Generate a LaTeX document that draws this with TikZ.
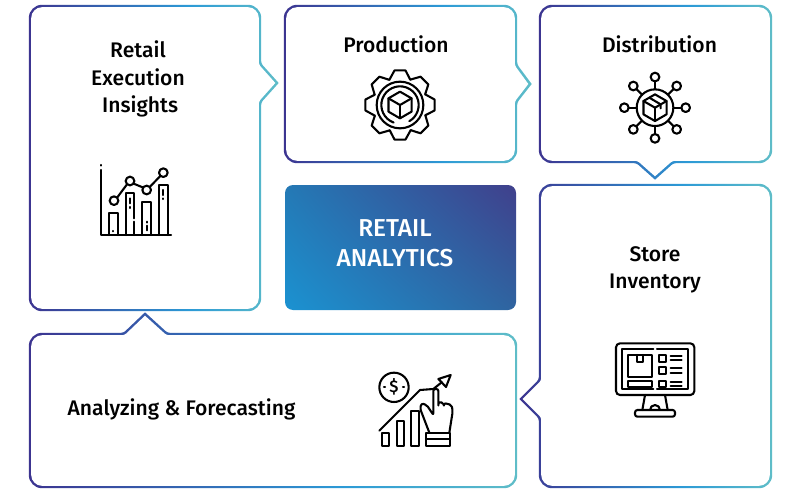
\documentclass[tikz,border=0pt]{standalone}
\usepackage{fontspec}
\setmainfont{Fira Sans Medium}
\usetikzlibrary{shadings}

\definecolor{ringpurple}{HTML}{3C3490}
\definecolor{ringblue}{HTML}{2C9AD6}
\definecolor{ringteal}{HTML}{5FBDC8}
\definecolor{centrell}{HTML}{1B92D1}
\definecolor{centreul}{HTML}{2479B5}
\definecolor{centrelr}{HTML}{2F64A0}
\definecolor{centreur}{HTML}{40408C}
\pgfdeclarehorizontalshading{ringshade}{100bp}{
    color(0bp)=(ringpurple); color(25bp)=(ringpurple); color(57bp)=(ringblue);
    color(75bp)=(ringteal); color(100bp)=(ringteal)}

\tikzset{
    heading/.style={font=\fontsize{15}{19.4}\selectfont, align=center, text=black},
    icon/.style={line width=0.052cm, black, line join=round, line cap=round},
    smallr/.style={rounded corners=0.06cm}
}

%% gradient outline: shaded shape with a white copy set inside it
\newcommand{\ringit}[1]{
    \def\d{-1.2}
    \pgfmathsetmacro{\rbig}{(12-\d)*0.025}
    \shade[shading=ringshade] #1;
    \def\d{1.2}
    \pgfmathsetmacro{\rbig}{(12-\d)*0.025}
    \fill[white] #1;
}

\begin{document}
\begin{tikzpicture}[x=0.025cm,y=-0.025cm]
    \useasboundingbox (0,0) rectangle (800,492);

    %% retail execution box, notch on the right
    \ringit{({145},{6+\d}) [rounded corners=\rbig cm] -- ({260-\d},{6+\d}) [smallr] -- ({260-\d},{64+0.41*\d}) [sharp corners]
        -- ({277-1.41*\d},83) [smallr] -- ({260-\d},{102-0.41*\d}) [rounded corners=\rbig cm] -- ({260-\d},{310-\d})
        -- ({30+\d},{310-\d}) -- ({30+\d},{6+\d}) -- cycle}

    %% production box, notch on the right
    \ringit{({400},{6+\d}) [rounded corners=\rbig cm] -- ({516-\d},{6+\d}) [smallr] -- ({516-\d},{65+0.41*\d}) [sharp corners]
        -- ({530-1.41*\d},84) [smallr] -- ({516-\d},{102-0.41*\d}) [rounded corners=\rbig cm] -- ({516-\d},{162-\d})
        -- ({285+\d},{162-\d}) -- ({285+\d},{6+\d}) -- cycle}

    %% distribution box, notch at the bottom
    \ringit{({655},{6+\d}) [rounded corners=\rbig cm] -- ({771-\d},{6+\d}) -- ({771-\d},{162-\d}) [smallr]
        -- ({673-0.41*\d},{162-\d}) [sharp corners] -- (655,{178-1.41*\d}) [smallr] -- ({637+0.41*\d},{162-\d})
        [rounded corners=\rbig cm] -- ({540+\d},{162-\d}) -- ({540+\d},{6+\d}) -- cycle}

    %% store inventory box, notch on the left
    \ringit{({655},{185+\d}) [rounded corners=\rbig cm] -- ({771-\d},{185+\d}) -- ({771-\d},{487-\d}) -- ({540+\d},{487-\d}) [smallr]
        -- ({540+\d},{418-0.41*\d}) [sharp corners] -- ({521+1.41*\d},399) [smallr] -- ({540+\d},{380+0.41*\d})
        [rounded corners=\rbig cm] -- ({540+\d},{185+\d}) -- cycle}

    %% forecasting box, notch on top
    \ringit{({300},{334+\d}) [rounded corners=\rbig cm] -- ({516-\d},{334+\d}) -- ({516-\d},{487-\d}) -- ({30+\d},{487-\d}) -- ({30+\d},{334+\d}) [smallr]
        -- ({124+0.41*\d},{334+\d}) [sharp corners] -- (145,{314+1.41*\d}) [smallr] -- ({167-0.41*\d},{334+\d})
        [rounded corners=\rbig cm] -- cycle}

    %% centre box
    \shade[rounded corners=0.2cm, lower left=centrell, upper right=centreur,
        upper left=centreul, lower right=centrelr] (285,185) rectangle (516,310);
    \node[heading, text=white, font=\fontsize{17.4}{21}\selectfont] (centre) at (395,243) {RETAIL\\ANALYTICS};

    %% other text
    \node[heading] (execution) at (138,79) {Retail\\Execution\\\hspace{3pt}Insights};
    \node[heading] (production) at (396,44) {Production};
    \node[heading] (distribution) at (659.5,44) {Distribution};
    \node[heading] (store) at (655,270) {Store\\Inventory};
    \node[heading] (forecasting) at (181.5,409) {Analyzing \& Forecasting};

    %% gear icon
    \begin{scope}[shift={(400,105)},scale=1/3,icon]
        \foreach \a in {0,45,...,315}
            \draw ({\a-23}:82) -- ({\a-9}:105) -- ({\a+9}:105) -- ({\a+22}:82);
        \draw (0,0) circle (70);
        \draw (110:56) arc (110:420:56);
        \draw (90:40) -- (30:40) -- (-30:40) -- (-90:40) -- (-150:40) -- (150:40) -- cycle;
        \draw (-150:40) -- (0,0) -- (-30:40);
        \draw (0,0) -- (90:40);
    \end{scope}

    %% hub icon
    \begin{scope}[shift={(655,107.7)},scale=1/3,icon]
        \draw (0,0) circle (55);
        \foreach \a in {0,45,...,315} {
            \draw (\a:55) -- (\a:79);
            \draw (\a:92) circle (13);
        }
        \draw (90:40) -- (30:40) -- (-30:40) -- (-90:40) -- (-150:40) -- (150:40) -- cycle;
        \draw (-150:40) -- (0,0) -- (-30:40);
        \draw (0,0) -- (90:40);
        \draw (-17,-30) -- (17,-10) -- (17,2);
    \end{scope}

    %% bar chart icon
    \begin{scope}[shift={(85,155)},scale=1/3,icon]
        \draw (47,30) -- (47,32);
        \draw (47,45) -- (47,240) -- (258,240);
        \draw (73,240) -- (73,175) -- (98,175) -- (98,240);
        \draw (122,240) -- (122,115) -- (148,115) -- (148,190);
        \draw (148,200) -- (148,240);
        \draw (172,240) -- (172,142) -- (198,142) -- (198,240);
        \draw (222,240) -- (222,90) -- (248,90) -- (248,240);
        \draw (85,228) -- (85,229);
        \draw (135,130) -- (135,145);
        \draw (135,156) -- (135,159);
        \draw (185,200) -- (185,203);
        \draw (185,212) -- (185,226);
        \draw (235,105) -- (235,120);
        \draw (235,130) -- (235,132);
        \draw (87,137) circle (13);
        \draw (135,78) circle (13);
        \draw (185,105) circle (13);
        \draw (235,53) circle (13);
        \draw (97,127) -- (126,88);
        \draw (146,86) -- (173,97);
        \draw (195,95) -- (226,63);
    \end{scope}

    %% monitor icon
    \begin{scope}[shift={(600,335)},scale=1/3,icon]
        \draw[rounded corners=0.1cm] (48,25) rectangle (283,180);
        \draw (160,42) -- (65,42) -- (65,163) -- (160,163);
        \draw (171,42) -- (265,42) -- (265,163) -- (171,163);
        \draw (135,180) -- (127,225);
        \draw (195,180) -- (203,225);
        \draw[rounded corners=0.06cm] (105,225) rectangle (225,245);
        \draw (150,225) arc (180:360:15);
        \draw (85,60) rectangle (155,125);
        \draw (112,60) -- (112,80) -- (130,80) -- (130,60);
        \draw (85,137) rectangle (155,157);
        \draw (178,60) rectangle (198,80);
        \draw (178,97) rectangle (198,117);
        \draw (178,137) rectangle (198,157);
        \foreach \y in {63,75,100,113,140,153}
            \draw (212,\y) -- (245,\y);
    \end{scope}

    %% growth icon
    \begin{scope}[shift={(370,365)},scale=1/3,icon]
        \draw (72,67) circle (44);
        \draw (42,67) -- (45,67);
        \draw (99,67) -- (102,67);
        \node[font=\fontsize{12}{12}\selectfont] (dollar) at (72,67) {\$};
        \draw (28,197) -- (150,75) -- (190,72) -- (215,52);
        \draw (242,30) -- (205,42) -- (215,52) -- (228,66) -- cycle;
        \draw (35,205) rectangle (58,243);
        \draw (80,168) rectangle (102,243);
        \draw (122,138) rectangle (147,243);
        \draw (168,205) rectangle (240,243);
        \draw (168,222) -- (240,222);
        \draw[rounded corners=0.05cm] (178,203) -- (150,130) -- (155,115) -- (170,120) -- (190,150) -- (190,72) -- (205,72) -- (205,125)
            -- (205,112) -- (220,112) -- (222,125) -- (222,114) -- (245,120) -- (248,140) -- (238,203);
    \end{scope}
\end{tikzpicture}
\end{document}
